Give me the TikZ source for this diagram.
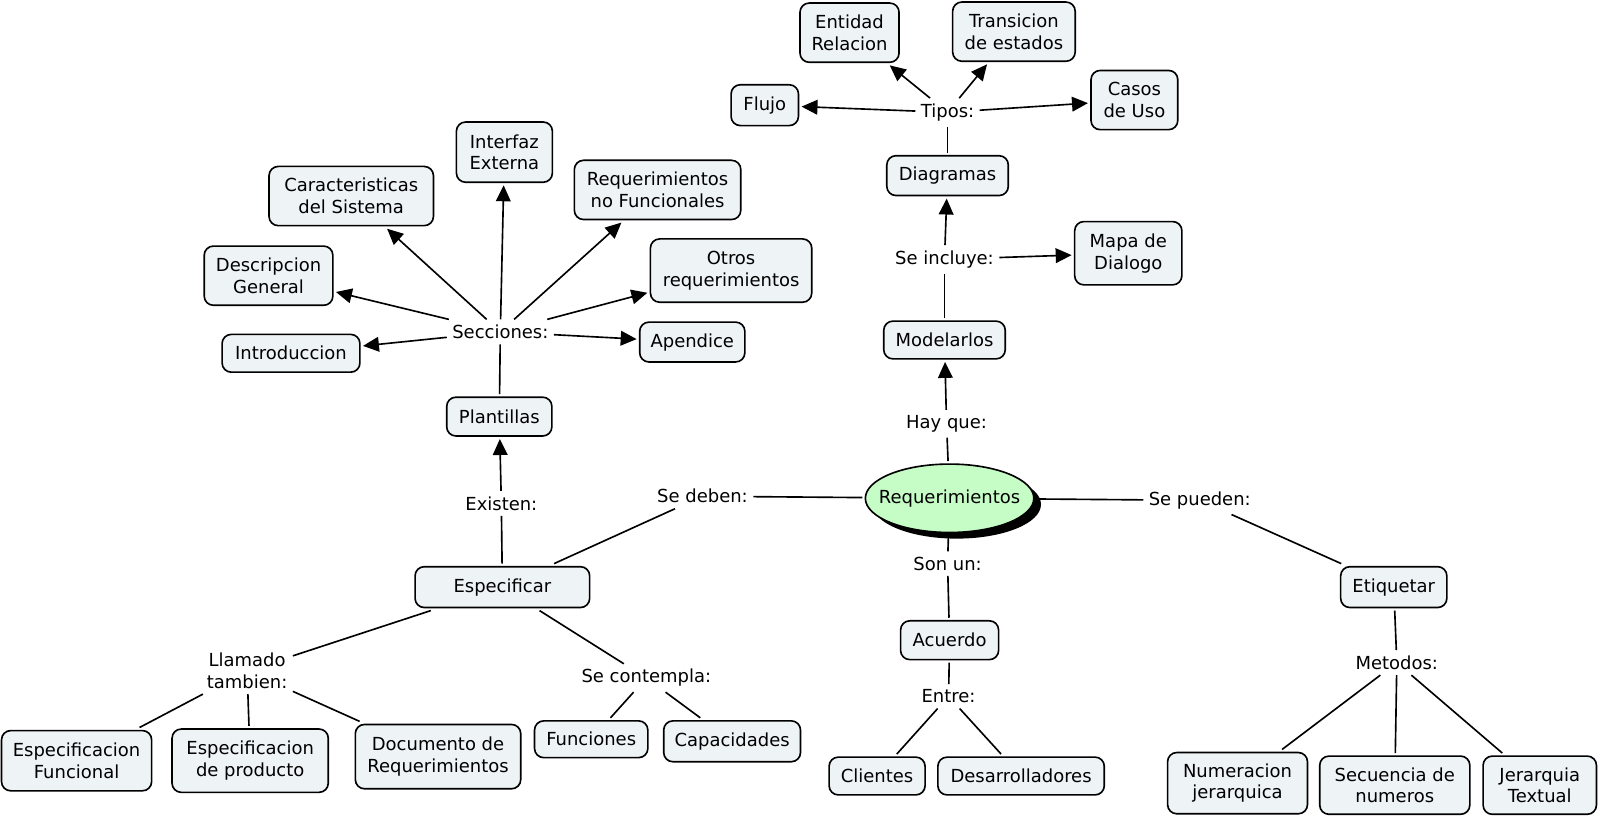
\documentclass[tikz,border=0pt]{standalone}
\usepackage{fontspec}
\setmainfont{DejaVu Sans}
\usetikzlibrary{arrows.meta,shapes.geometric,shadows}
\definecolor{boxfill}{HTML}{EEF3F5}
\definecolor{ellfill}{HTML}{C6FDC6}
\tikzset{
  box/.style={draw=black, line width=0.8pt, rounded corners=4.5pt, fill=boxfill, align=center,
    font=\fontsize{8.8}{10.6}\selectfont, inner sep=1pt, outer sep=1.5pt},
  lbl/.style={align=center, font=\fontsize{8.8}{10.6}\selectfont, inner sep=2.5pt},
  conn/.style={line width=0.8pt},
  arr/.style={conn, -{Triangle[length=7.8pt,width=7.2pt]}},
}
\begin{document}
\begin{tikzpicture}[x=0.5pt,y=-0.5pt]
\useasboundingbox (0,0) rectangle (1567,802);

% ---- top right cluster
\node[box, minimum width=48.5pt, minimum height=29pt] (entidad) at (832,32) {Entidad\\Relacion};
\node[box, minimum width=60pt, minimum height=29pt] (trans) at (993,31) {Transicion\\de estados};
\node[box, minimum width=33pt, minimum height=20pt] (flujo) at (749,103) {Flujo};
\node[box, minimum width=42.5pt, minimum height=29pt] (casos) at (1111,98) {Casos\\de Uso};
\node[lbl] (tipos) at (928,110) {Tipos:};
\node[box, minimum width=59.5pt, minimum height=19.5pt] (diag) at (928,172) {Diagramas};
\node[box, minimum width=52.5pt, minimum height=31pt] (mapa) at (1105,248) {Mapa de\\Dialogo};
\node[lbl] (seincl) at (925,254) {Se incluye:};
\node[box, minimum width=59.5pt, minimum height=18.5pt] (model) at (925,333) {Modelarlos};
\node[lbl] (hayque) at (927,415) {Hay que:};
\node[ellipse, draw=black, line width=0.8pt, fill=ellfill, minimum width=82.5pt, minimum height=33.5pt,
  inner sep=0pt, outer sep=1.5pt, font=\fontsize{8.8}{10.6}\selectfont,
  drop shadow={shadow xshift=3.5pt, shadow yshift=-3pt, fill=black, opacity=1}] (req) at (930,488) {\makebox[0pt]{Requerimientos}};

% ---- left cluster
\node[box, minimum width=47pt, minimum height=29.5pt] (interfaz) at (494,149) {Interfaz\\Externa};
\node[box, minimum width=80.5pt, minimum height=29pt] (carac) at (344,192) {Caracteristicas\\del Sistema};
\node[box, minimum width=81.5pt, minimum height=29pt] (reqnf) at (644,186) {Requerimientos\\no Funcionales};
\node[box, minimum width=63pt, minimum height=29pt] (desc) at (263,270) {Descripcion\\General};
\node[box, minimum width=79pt, minimum height=31pt] (otros) at (716,265) {Otros\\requerimientos};
\node[box, minimum width=67.5pt, minimum height=18.5pt] (intro) at (285,346) {Introduccion};
\node[box, minimum width=51.5pt, minimum height=19.5pt] (apend) at (678,335) {Apendice};
\node[lbl] (secc) at (490,325) {Secciones:};
\node[box, minimum width=51.5pt, minimum height=19pt] (plant) at (489,408) {Plantillas};
\node[lbl] (existen) at (491,493) {Existen:};
\node[box, minimum width=85.5pt, minimum height=20pt] (esp) at (492,575) {Especificar};
\node[lbl] (sedeben) at (688,486) {Se deben:};
\node[lbl] (llamado) at (242,657) {Llamado\\tambien:};
\node[lbl] (secont) at (633,664) {Se contempla:};
\node[box, minimum width=73.5pt, minimum height=29.5pt] (espfun) at (75,745) {Especificacion\\Funcional};
\node[box, minimum width=76.5pt, minimum height=31pt] (espprod) at (245,745) {Especificacion\\de producto};
\node[box, minimum width=81pt, minimum height=31.5pt] (doc) at (429,741) {Documento de\\Requerimientos};
\node[box, minimum width=55.5pt, minimum height=18pt] (func) at (579,724) {Funciones};
\node[box, minimum width=67pt, minimum height=20pt] (capac) at (717,726) {Capacidades};

% ---- bottom middle and right
\node[lbl] (sonun) at (928,552) {Son un:};
\node[box, minimum width=48pt, minimum height=19pt] (acuerdo) at (930,627) {Acuerdo};
\node[lbl] (entre) at (929,682) {Entre:};
\node[box, minimum width=47pt, minimum height=18.5pt] (clientes) at (859,760) {Clientes};
\node[box, minimum width=81.5pt, minimum height=18.5pt] (desarr) at (1000,760) {Desarrolladores};
\node[lbl] (sepueden) at (1175,490) {Se pueden:};
\node[box, minimum width=52pt, minimum height=20pt] (etiq) at (1365,575) {Etiquetar};
\node[lbl] (metodos) at (1368,649) {Metodos:};
\node[box, minimum width=68.5pt, minimum height=30pt] (numer) at (1212,767) {Numeracion\\jerarquica};
\node[box, minimum width=73.5pt, minimum height=28.5pt] (secu) at (1366,769) {Secuencia de\\numeros};
\node[box, minimum width=55.5pt, minimum height=28.5pt] (jerar) at (1508,769) {Jerarquia\\Textual};

% ---- connectors
\draw[conn] (diag) -- (tipos);
\draw[arr] (tipos) -- (flujo);
\draw[arr] (tipos) -- (entidad);
\draw[arr] (tipos) -- (trans);
\draw[arr] (tipos) -- (casos);
\draw[conn] (model) -- (seincl);
\draw[arr] (seincl) -- (diag);
\draw[arr] (seincl) -- (mapa);
\draw[conn] (req) -- (hayque);
\draw[arr] (hayque) -- (model);

\draw[conn] (plant) -- (secc);
\draw[arr] (secc) -- (intro);
\draw[arr] (secc) -- (desc);
\draw[arr] (secc) -- (carac);
\draw[arr] (secc) -- (interfaz);
\draw[arr] (secc) -- (reqnf);
\draw[arr] (secc) -- (otros);
\draw[arr] (secc) -- (apend);
\draw[conn] (esp) -- (existen);
\draw[arr] (existen) -- (plant);
\draw[conn] (req) -- (sedeben);
\draw[conn] (sedeben) -- (esp);
\draw[conn] (esp) -- (llamado);
\draw[conn] (llamado) -- (espfun);
\draw[conn] (llamado) -- (espprod);
\draw[conn] (llamado) -- (doc);
\draw[conn] (esp) -- (secont);
\draw[conn] (secont) -- (func);
\draw[conn] (secont) -- (capac);

\draw[conn] (req) -- (sonun);
\draw[conn] (sonun) -- (acuerdo);
\draw[conn] (acuerdo) -- (entre);
\draw[conn] (entre) -- (clientes);
\draw[conn] (entre) -- (desarr);
\draw[conn] (req) -- (sepueden);
\draw[conn] (sepueden) -- (etiq);
\draw[conn] (etiq) -- (metodos);
\draw[conn] (metodos) -- (numer);
\draw[conn] (metodos) -- (secu);
\draw[conn] (metodos) -- (jerar);
\end{tikzpicture}
\end{document}
